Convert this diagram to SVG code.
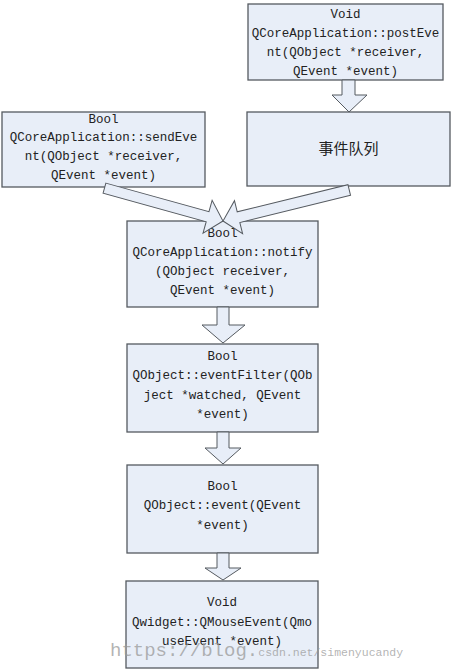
<svg xmlns="http://www.w3.org/2000/svg" width="452" height="670" viewBox="0 0 452 670">
<style>
.box{fill:#e8eef8;stroke:#555a60;stroke-width:1.3}
.arr{fill:#e8eef8;stroke:#555a60;stroke-width:1}
.t{font-family:"Liberation Mono","DejaVu Sans Mono",monospace;font-size:12.5px;fill:#222;text-anchor:middle}
.cn{font-family:"Noto Sans CJK SC","Noto Sans",sans-serif;font-size:15px;fill:#222;text-anchor:middle}
.wm{font-family:"Liberation Mono",monospace;fill:#9a9a9a;fill-opacity:0.75}
</style>
<rect width="452" height="670" fill="#ffffff"/>
<g id="postEvent">
<rect class="box" x="248" y="4" width="195" height="76"/>
<text class="t" x="345.5" y="17.5">Void</text>
<text class="t" x="345.5" y="36.5">QCoreApplication::postEve</text>
<text class="t" x="345.5" y="55.5">nt(QObject *receiver,</text>
<text class="t" x="345.5" y="74.5">QEvent *event)</text>
</g>
<g id="sendEvent">
<rect class="box" x="2" y="112" width="203" height="75"/>
<text class="t" x="103.5" y="122.5">Bool</text>
<text class="t" x="103.5" y="141">QCoreApplication::sendEve</text>
<text class="t" x="103.5" y="160">nt(QObject *receiver,</text>
<text class="t" x="103.5" y="178.5">QEvent *event)</text>
</g>
<g id="queue">
<rect class="box" x="247" y="112" width="203" height="74"/>
<text class="cn" x="348.5" y="154">事件队列</text>
</g>
<g id="notify">
<rect class="box" x="127" y="221" width="191" height="86"/>
<text class="t" x="222.5" y="236.5">Bool</text>
<text class="t" x="222.5" y="255.5">QCoreApplication::notify</text>
<text class="t" x="222.5" y="275">(QObject receiver,</text>
<text class="t" x="222.5" y="294">QEvent *event)</text>
</g>
<g id="eventFilter">
<rect class="box" x="127" y="344" width="191" height="88"/>
<text class="t" x="222.5" y="359.5">Bool</text>
<text class="t" x="222.5" y="379">QObject::eventFilter(QOb</text>
<text class="t" x="222.5" y="398.5">ject *watched, QEvent</text>
<text class="t" x="222.5" y="417.5">*event)</text>
</g>
<g id="event">
<rect class="box" x="127" y="465" width="191" height="88"/>
<text class="t" x="222.5" y="489.5">Bool</text>
<text class="t" x="222.5" y="509">QObject::event(QEvent</text>
<text class="t" x="222.5" y="529">*event)</text>
</g>
<g id="mouseEvent">
<rect class="box" x="126" y="581" width="192" height="87"/>
<text class="t" x="222" y="605.5">Void</text>
<text class="t" x="222" y="626">Qwidget::QMouseEvent(Qmo</text>
<text class="t" x="222" y="644.5">useEvent *event)</text>
</g>
<g id="connectors">
<polygon class="arr" points="342,80 355,80 355,95 367,95 349,112 332,95 342,95"/>
<polygon class="arr" transform="translate(223,221) rotate(15.5)" points="-123,-5.2 -16,-5.2 -16,-17 0,0 -16,17 -16,5.2 -123,5.2"/>
<polygon class="arr" transform="translate(223,221) rotate(166.2)" points="-130,-5.5 -16,-5.5 -16,-17 0,0 -16,17 -16,5.5 -130,5.5"/>
<polygon class="arr" points="217,307 229,307 229,325 245,325 223,343 202,325 217,325"/>
<polygon class="arr" points="217,432 229,432 229,448 241,448 223,464 205,448 217,448"/>
<polygon class="arr" points="217,553 229,553 229,568 241,568 223,580 205,568 217,568"/>
</g>
<g id="watermark">
<text class="wm" x="110" y="656" font-size="19">https://blog.<tspan font-size="11.5">csdn.net/simenyucandy</tspan></text>
</g>
</svg>
